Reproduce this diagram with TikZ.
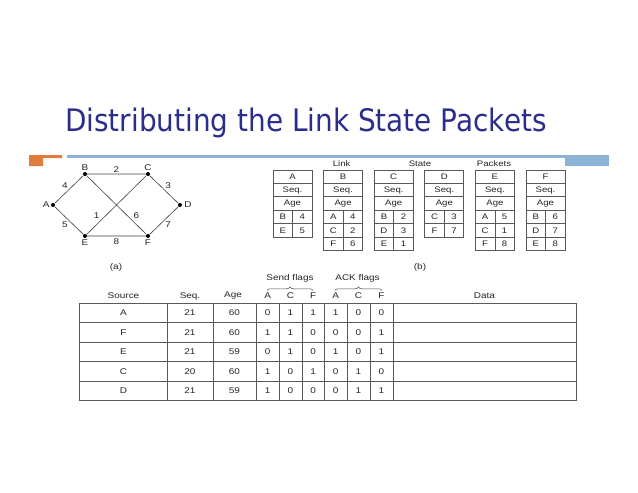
\documentclass[tikz,border=0pt]{standalone}
\usepackage{fontspec}
\setmainfont[FakeStretch=1.2]{Liberation Sans}
\newfontfamily\titlefont[FakeStretch=0.9]{DejaVu Sans}
\usetikzlibrary{decorations.pathreplacing}
\definecolor{titleblue}{RGB}{43,45,140}
\definecolor{barblue}{RGB}{141,179,215}
\definecolor{barorange}{RGB}{226,122,62}
\definecolor{ink}{RGB}{35,35,35}

\begin{document}
\begin{tikzpicture}[x=1pt,y=-1pt,
  dot/.style={circle,fill=black,inner sep=0pt,minimum size=4pt},
  lbl/.style={font=\fontsize{8.3}{9}\selectfont,text=ink,inner sep=1pt},
  cell/.style={font=\fontsize{8}{9}\selectfont,text=ink,inner sep=0pt},
  grid/.style={draw=black!65,line width=.8pt},
  edge/.style={draw=black!75,line width=.6pt}]
\useasboundingbox (0,0) rectangle (638,493);
% title and bar
\node[anchor=base west,inner sep=0pt,text=titleblue,font=\titlefont\fontsize{31}{36}\selectfont] (title) at (65,131) {Distributing the Link State Packets};
\fill[barorange] (29,155) rectangle (62,158) (29,155) rectangle (43,166);
\fill[barblue] (67,155) rectangle (566,158);
\fill[barblue] (565,155) rectangle (609,166);
% (a) the subnet
\node[dot,label={[lbl]above:B}] (B) at (85,174) {};
\node[dot,label={[lbl]above:C}] (C) at (148,174) {};
\node[dot,label={[lbl,label distance=0pt]left:A}] (A) at (53,205) {};
\node[dot,label={[lbl,label distance=1pt]right:D}] (D) at (180,205) {};
\node[dot,label={[lbl,label distance=.5pt]below:E}] (E) at (85,236) {};
\node[dot,label={[lbl,label distance=.5pt]below:F}] (F) at (148,236) {};
\draw[edge] (A) -- node[lbl,above left] {4} (B)
  (B) -- node[lbl,above=.5pt] {2} (C)
  (C) -- node[lbl,above right] {3} (D)
  (A) -- node[lbl,below left] {5} (E)
  (E) -- node[lbl,below=1pt] {8} (F)
  (F) -- node[lbl,below right] {7} (D)
  (C) -- node[lbl,pos=.68,left=5pt] {1} (E)
  (B) -- node[lbl,pos=.68,right=5pt] {6} (F);
\node[lbl] (capa) at (116,267.5) {(a)};
% (b) the packets
\def\rh{13.4}
\node[cell] (link) at (341.7,164) {Link};
\node[cell] (state) at (420,164) {State};
\node[cell] (packets) at (494,164) {Packets};
\foreach \nm/\i/\rows in {A/0/{B/4,E/5},B/1/{A/4,C/2,F/6},C/2/{B/2,D/3,E/1},
                          D/3/{C/3,F/7},E/4/{A/5,C/1,F/8},F/5/{B/6,D/7,E/8}}{
  \pgfmathsetmacro\x{273+50.6*\i}
  \draw[grid] (\x,170) rectangle ++(39,{3*\rh});
  \draw[grid] (\x,{170+\rh}) -- ++(39,0) (\x,{170+2*\rh}) -- ++(39,0);
  \node[cell] (lsp\nm) at ({\x+19.5},{170+.5*\rh}) {\nm};
  \node[cell] at ({\x+19.5},{170+1.5*\rh}) {Seq.};
  \node[cell] at ({\x+19.5},{170+2.5*\rh}) {Age};
  \foreach \n/\c [count=\k] in \rows {
    \pgfmathsetmacro\ry{170+\rh*(\k+2)}
    \draw[grid] (\x,\ry) rectangle ++(39,\rh)
      ({\x+19.5},\ry) -- ++(0,\rh);
    \node[cell] at ({\x+9.75},{\ry+.5*\rh}) {\n};
    \node[cell] at ({\x+29.25},{\ry+.5*\rh}) {\c};
  }
}
\node[lbl] (capb) at (420,267.5) {(b)};
% (c) the packet buffer
\node[lbl] (send) at (290,278.3) {Send flags};
\node[lbl] (ack) at (357.5,278.3) {ACK flags};
\draw[black!70,line width=.5pt,decorate,decoration={brace,amplitude=3.5pt}] (267,290.5) -- (313,290.5);
\draw[black!70,line width=.5pt,decorate,decoration={brace,amplitude=3.5pt}] (335,290.5) -- (382,290.5);
\foreach \t/\cx in {Source/123.5,Seq./190,Age/233,A/267.75,C/290.5,F/313.25,
                    A/335.75,C/358.5,F/381.5,Data/484.5}
  \node[lbl] at (\cx,296) {\t};
\foreach \cx in {79,167,213,256.5,279,302,324.5,347,370,393,576}
  \draw[grid] (\cx,303) -- (\cx,400.5);
\foreach \cy in {303,322.5,342,361.5,381,400.5}
  \draw[grid] (79,\cy) -- (576,\cy);
\foreach \s/\q/\g/\a/\b/\c/\d/\e/\f [count=\r] in
  {A/21/60/0/1/1/1/0/0,F/21/60/1/1/0/0/0/1,E/21/59/0/1/0/1/0/1,
   C/20/60/1/0/1/0/1/0,D/21/59/1/0/0/0/1/1}{
  \pgfmathsetmacro\y{303+19.5*(\r-.5)}
  \foreach \v/\cx in {\s/123.5,\q/190,\g/234.5,\a/267.75,\b/290.5,\c/313.25,
                      \d/335.75,\e/358.5,\f/381.5}
    \node[lbl] at (\cx,\y) {\v};
}
\end{tikzpicture}
\end{document}
